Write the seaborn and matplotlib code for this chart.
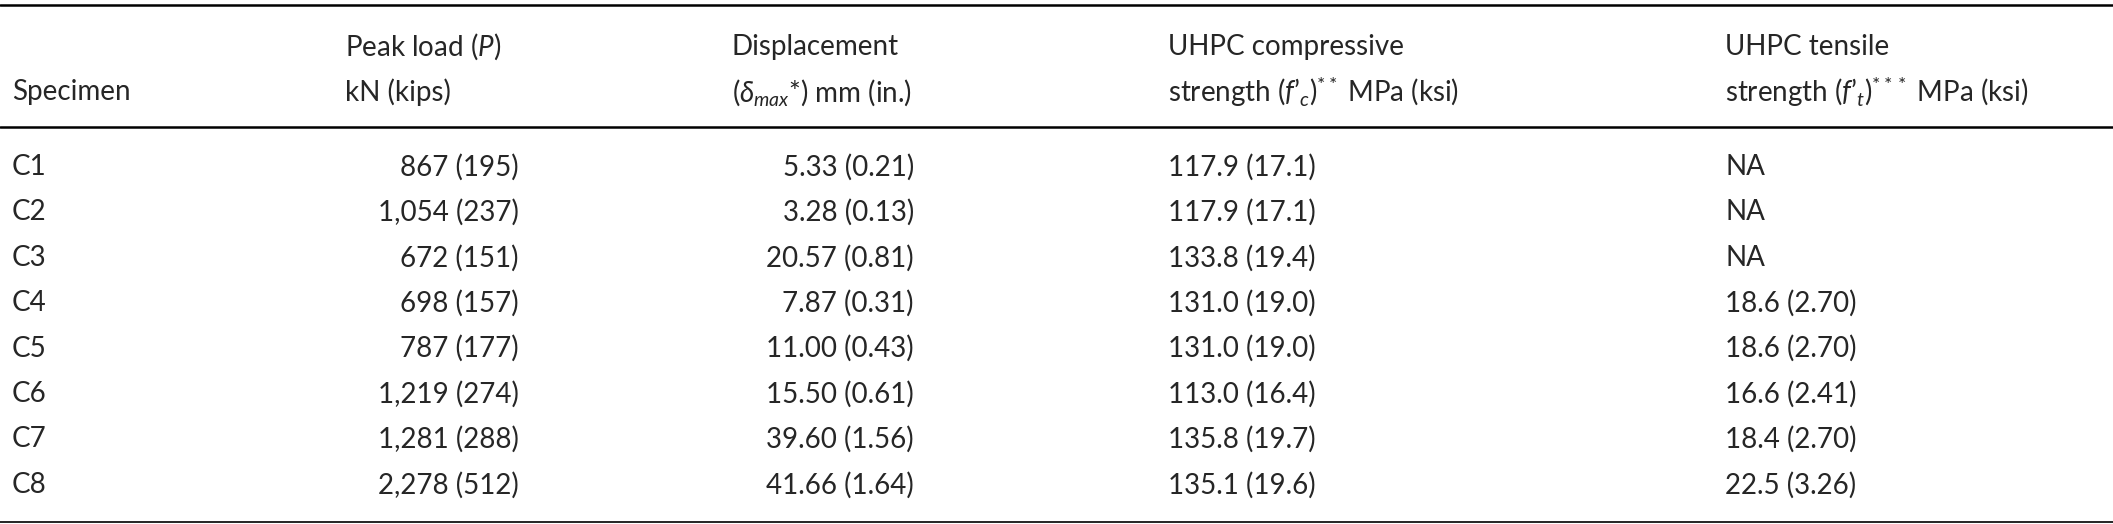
import matplotlib.pyplot as plt
import seaborn as sns

specimens = ["C1", "C2", "C3", "C4", "C5", "C6", "C7", "C8"]
peak_load = ["867 (195)", "1,054 (237)", "672 (151)", "698 (157)", "787 (177)",
             "1,219 (274)", "1,281 (288)", "2,278 (512)"]
displacement = ["5.33 (0.21)", "3.28 (0.13)", "20.57 (0.81)", "7.87 (0.31)",
                "11.00 (0.43)", "15.50 (0.61)", "39.60 (1.56)", "41.66 (1.64)"]
compressive = ["117.9 (17.1)", "117.9 (17.1)", "133.8 (19.4)", "131.0 (19.0)",
               "131.0 (19.0)", "113.0 (16.4)", "135.8 (19.7)", "135.1 (19.6)"]
tensile = ["NA", "NA", "NA", "18.6 (2.70)", "18.6 (2.70)", "16.6 (2.41)",
           "18.4 (2.70)", "22.5 (3.26)"]

headers = [
    ("Specimen", None),
    ("Peak load ($\\it{P}$)", "kN (kips)"),
    ("Displacement", "($\\delta_{max}$*) mm (in.)"),
    ("UHPC compressive", "strength ($\\it{f\u2019_c}$)$^{**}$ MPa (ksi)"),
    ("UHPC tensile", "strength ($\\it{f\u2019_t}$)$^{***}$ MPa (ksi)"),
]

sns.set_theme(style="white")
plt.rcParams["font.family"] = ["Lato", "DejaVu Sans"]
plt.rcParams["mathtext.fontset"] = "custom"
plt.rcParams["mathtext.rm"] = "Lato"
plt.rcParams["mathtext.it"] = "Lato:italic"

W, H = 2113, 524
fig = plt.figure(figsize=(W / 100, H / 100), dpi=100)
ax = fig.add_axes([0, 0, 1, 1])
ax.set_xlim(0, W)
ax.set_ylim(H, 0)
ax.axis("off")

fs = 20
col_left = [12, 345, 732, 1168, 1725]
right_edge = {1: 519, 2: 914}

# header
for (l1, l2), x in zip(headers, col_left):
    if l2 is None:
        ax.text(x, 92, l1, fontsize=fs, va="center", ha="left")
    else:
        ax.text(x, 47, l1, fontsize=fs, va="center", ha="left")
        ax.text(x, 92, l2, fontsize=fs, va="center", ha="left")

# rules
ax.plot([0, W], [5, 5], color="black", lw=1.8)
ax.plot([0, W], [127, 127], color="black", lw=1.8)
ax.plot([0, W], [522, 522], color="black", lw=1.2)

# body
for i, s in enumerate(specimens):
    y = 167 + i * 45.4
    ax.text(col_left[0], y, s, fontsize=fs, va="center", ha="left")
    ax.text(right_edge[1], y, peak_load[i], fontsize=fs, va="center", ha="right")
    ax.text(right_edge[2], y, displacement[i], fontsize=fs, va="center", ha="right")
    ax.text(col_left[3], y, compressive[i], fontsize=fs, va="center", ha="left")
    ax.text(col_left[4], y, tensile[i], fontsize=fs, va="center", ha="left")

fig.savefig("out.png", dpi=100)
